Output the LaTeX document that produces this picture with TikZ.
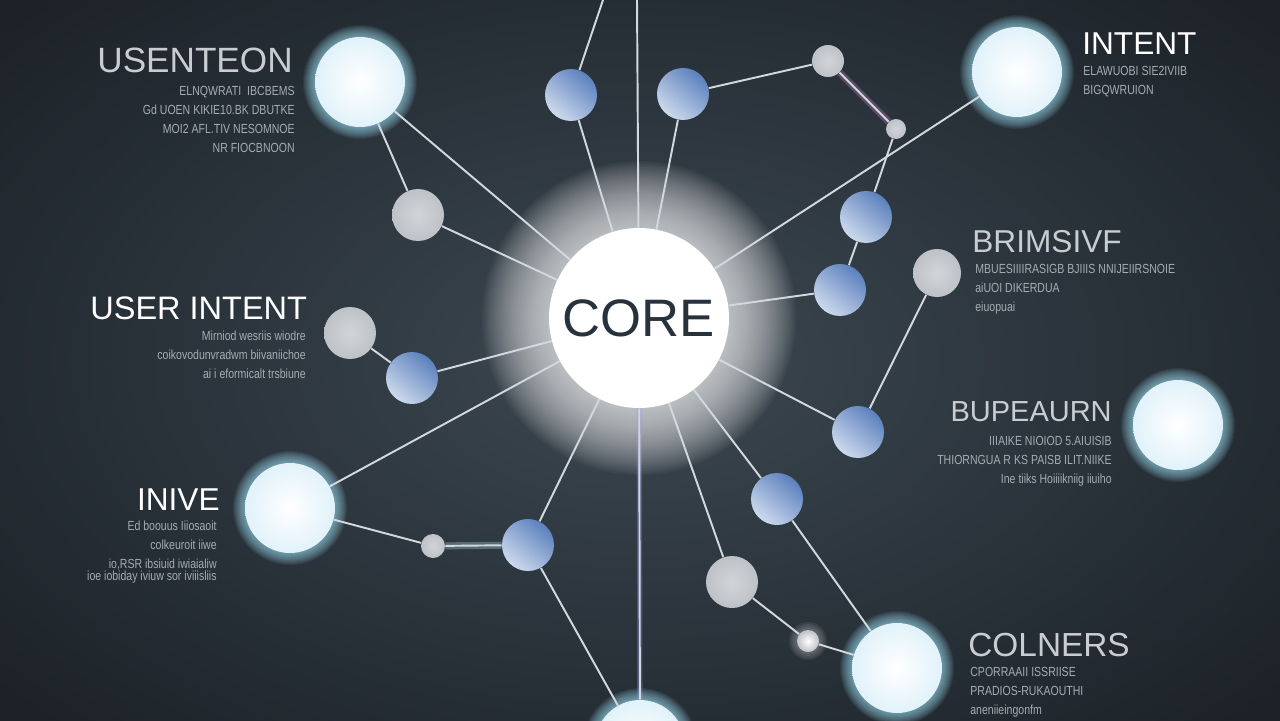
\documentclass[tikz,border=0pt]{standalone}
\usepackage{fontspec}
\setmainfont{Liberation Sans}
\newfontfamily\notefont[FakeStretch=0.8]{Liberation Sans}
\usetikzlibrary{backgrounds}
\definecolor{bgin}{RGB}{60,72,82}
\definecolor{bgout}{RGB}{28,34,40}
\definecolor{wire}{RGB}{210,216,224}
\definecolor{cyanglow}{RGB}{160,225,245}
\definecolor{bigedge}{RGB}{225,242,250}
\definecolor{bluedark}{RGB}{92,128,190}
\definecolor{bluelight}{RGB}{205,218,236}
\definecolor{greyfill}{RGB}{190,194,199}
\definecolor{titlegrey}{RGB}{200,205,210}
\definecolor{notegrey}{RGB}{165,172,179}
\definecolor{coretext}{RGB}{40,50,60}
\tikzset{
	corenode/.style={circle, minimum size=3.6cm, inner sep=0pt, fill=white, text=coretext, font=\fontsize{30}{32}\selectfont},
	bignode/.style={circle, minimum size=1.8cm, inner sep=0pt, shade, inner color=white, outer color=bigedge},
	bluenode/.style={circle, minimum size=1.04cm, inner sep=0pt, shade, top color=bluedark, bottom color=bluelight, shading angle=-40},
	greynode/.style={circle, minimum size=1.04cm, inner sep=0pt, shade, inner color=greyfill!70!white, outer color=greyfill},
	wireline/.style={draw=wire, line width=1.1pt},
	heading/.style={text=titlegrey, font=\fontsize{18}{20}\selectfont, inner sep=0pt},
	notes/.style={text=notegrey, font=\notefont\fontsize{7.5}{10.8}\selectfont, inner sep=0pt}
}
\begin{document}
\begin{tikzpicture}[x=0.02cm, y=-0.02cm]
	\useasboundingbox (0,0) rectangle (1280,720);

	\node[corenode] (core) at (639,318) {CORE};

	\node[bignode] (usenteon) at (360,82) {};
	\node[bignode] (intent) at (1017,72) {};
	\node[bignode] (bupeaurn) at (1178,425) {};
	\node[bignode] (inive) at (290,508) {};
	\node[bignode] (colners) at (897,668) {};
	\node[bignode] (bottom) at (640,745) {};

	\node[bluenode] (b1) at (571,95) {};
	\node[bluenode] (b2) at (683,94) {};
	\node[bluenode] (b3) at (866,217) {};
	\node[bluenode] (b4) at (840,290) {};
	\node[bluenode] (b5) at (412,378) {};
	\node[bluenode] (b6) at (858,432) {};
	\node[bluenode] (b7) at (777,499) {};
	\node[bluenode] (b8) at (528,545) {};

	\node[greynode] (g1) at (418,215) {};
	\node[greynode] (g2) at (350,333) {};
	\node[greynode, minimum size=0.96cm] (g3) at (937,273) {};
	\node[greynode] (g4) at (732,582) {};
	\node[greynode, minimum size=0.64cm] (g5) at (828,61) {};
	\node[greynode, minimum size=0.4cm] (g6) at (896,129) {};
	\node[greynode, minimum size=0.48cm] (g7) at (433,546) {};
	\node[greynode, minimum size=0.44cm, inner color=white] (g8) at (808,641) {};

	\coordinate (topa) at (603,0);
	\coordinate (topb) at (637,0);

	\begin{scope}[on background layer]
		\shade[inner color=bgin, outer color=bgout] (-200,-150) rectangle (1480,870);
		\foreach \r in {91,93,...,157}
			\fill[white, opacity=0.035] (core.center) circle (\r);
		\foreach \n in {usenteon,intent,bupeaurn,inive,colners,bottom}
			\foreach \r in {45,46,...,57}
				\fill[cyanglow, opacity=0.07] (\n.center) circle (\r);
		\foreach \r in {11,13,...,19}
			\fill[white, opacity=0.07] (g8.center) circle (\r);
		\draw[line width=3pt, blue!40!white, opacity=0.3] (core) -- (bottom);
		\draw[line width=4pt, violet!50!white, opacity=0.35] (g5) -- (g6);
		\draw[line width=4pt, cyan!30!white, opacity=0.3] (g7) -- (b8);
		\draw[wireline] (core) -- (topb);
		\draw[wireline] (b1) -- (topa);
		\draw[wireline] (core) -- (usenteon);
		\draw[wireline] (usenteon) -- (g1);
		\draw[wireline] (g1) -- (core);
		\draw[wireline] (b1) -- (core);
		\draw[wireline] (b2) -- (core);
		\draw[wireline] (b2) -- (g5);
		\draw[wireline] (g5) -- (g6);
		\draw[wireline] (g6) -- (b3);
		\draw[wireline] (b3) -- (b4);
		\draw[wireline] (b4) -- (core);
		\draw[wireline] (intent) -- (core);
		\draw[wireline] (g3) -- (b6);
		\draw[wireline] (b6) -- (core);
		\draw[wireline] (g2) -- (b5);
		\draw[wireline] (b5) -- (core);
		\draw[wireline] (inive) -- (core);
		\draw[wireline] (inive) -- (g7);
		\draw[wireline] (g7) -- (b8);
		\draw[wireline] (b8) -- (core);
		\draw[wireline] (b8) -- (bottom);
		\draw[wireline] (core) -- (bottom);
		\draw[wireline] (core) -- (b7);
		\draw[wireline] (core) -- (g4);
		\draw[wireline] (b7) -- (colners);
		\draw[wireline] (g4) -- (g8);
		\draw[wireline] (g8) -- (colners);
	\end{scope}

	\node[heading, font=\fontsize{20}{22}\selectfont, anchor=east] (usenteontitle) at (293,60) {USENTEON};
	\node[notes, anchor=north east, align=right] (usenteonnotes) at (295,86) {ELNQWRATI\ \ IBCBEMS\\Gd UOEN KIKIE10.BK DBUTKE\\MOI2 AFL.TIV NESOMNOE\\NR FIOCBNOON};

	\node[heading, text=white, font=\fontsize{18.5}{20}\selectfont, anchor=west] (usertitle) at (90,308) {USER INTENT};
	\node[notes, anchor=north east, align=right] (usernotes) at (306,331) {Mirniod wesriis wiodre\\coikovodunvradwm biivaniichoe\\ai i eformicalt trsbiune};

	\node[heading, text=white, anchor=east] (inivetitle) at (220,500) {INIVE};
	\node[notes, anchor=north east, align=right] (inivenotes) at (217,521) {Ed boouus Iiiosaoit\\colkeuroit iiwe\\io,RSR ibsiuid iwiaialiw\\[-4pt]ioe iobiday iviuw sor iviiisliis};

	\node[heading, text=white, anchor=west] (intenttitle) at (1082,44) {INTENT};
	\node[notes, anchor=north west, align=left] (intentnotes) at (1083,66) {ELAWUOBI SIE2IVIIB\\BIGQWRUION};

	\node[heading, anchor=west] (brimsivftitle) at (972,242) {BRIMSIVF};
	\node[notes, anchor=north west, align=left] (brimsivfnotes) at (975,264) {MBUESIIIIRASIGB BJIIIS NNIJEIIRSNOIE\\aiUOI DIKERDUA\\eiuopuai};

	\node[heading, font=\fontsize{16.5}{18}\selectfont, anchor=east] (bupeaurntitle) at (1112,412) {BUPEAURN};
	\node[notes, anchor=north east, align=right] (bupeaurnnotes) at (1112,436) {IIIAIKE NIOIOD 5.AIUISIB\\THIORNGUA R KS PAISB ILIT.NIIKE\\Ine tiiks Hoiiiikniig iiuiho};

	\node[heading, font=\fontsize{19}{21}\selectfont, anchor=west] (colnerstitle) at (968,645) {COLNERS};
	\node[notes, anchor=north west, align=left] (colnersnotes) at (970,667) {CPORRAAII ISSRIISE\\PRADIOS-RUKAOUTHI\\aneniieingonfm};
\end{tikzpicture}
\end{document}
